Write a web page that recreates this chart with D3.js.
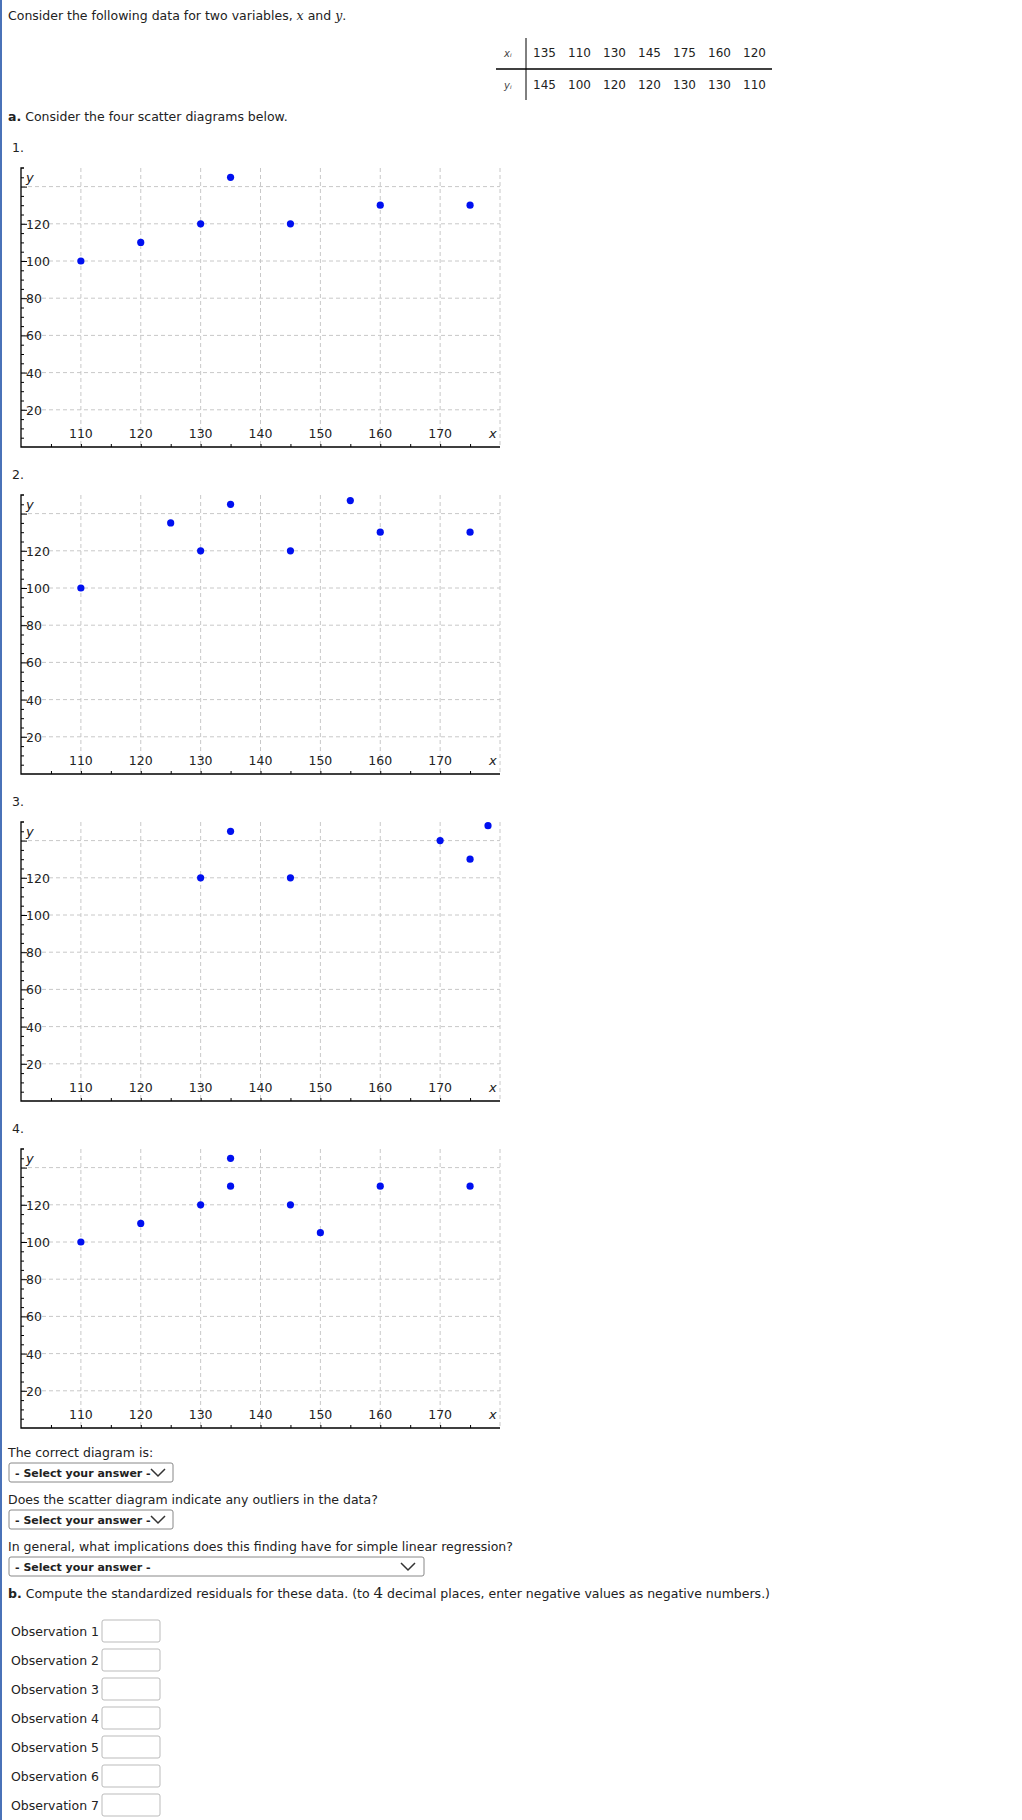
<!DOCTYPE html>
<html>
<head>
<meta charset="utf-8">
<script src="https://cdn.jsdelivr.net/npm/d3@7"></script>
<style>
body { margin: 0; background: #fff; font-family: Verdana, "DejaVu Sans", sans-serif; }
svg text { font-family: Verdana, "DejaVu Sans", sans-serif; }
</style>
</head>
<body>
<svg id="page" width="1022" height="1820"></svg>
<script>
"use strict";

// data
var xi = [135, 110, 130, 145, 175, 160, 120];
var yi = [145, 100, 120, 120, 130, 130, 110];
var plot1 = [[110, 100], [120, 110], [130, 120], [135, 145], [145, 120], [160, 130], [175, 130]];
var plot2 = [[110, 100], [125, 135], [130, 120], [135, 145], [145, 120], [155, 147], [160, 130], [175, 130]];
var plot3 = [[130, 120], [135, 145], [145, 120], [170, 140], [175, 130], [178, 148]];
var plot4 = [[110, 100], [120, 110], [130, 120], [135, 145], [135, 130], [145, 120], [150, 105], [160, 130], [175, 130]];
var plots = [plot1, plot2, plot3, plot4];
var xTicks = [110, 120, 130, 140, 150, 160, 170];
var yTicks = [20, 40, 60, 80, 100, 120];
var observations = ["Observation 1", "Observation 2", "Observation 3", "Observation 4", "Observation 5", "Observation 6", "Observation 7"];

var svg = d3.select("#page");
var ink = "#222";

//Left border line
svg.append("rect").attr("x", 0).attr("y", 0).attr("width", 2).attr("height", 1820).attr("fill", "#4a72b8");

svg.append("text").attr("x", 8).attr("y", 20).attr("font-size", 12.5).attr("fill", ink)
  .html("Consider the following data for two variables, <tspan font-style='italic' font-family='DejaVu Serif'>x</tspan> and <tspan font-style='italic' font-family='DejaVu Serif'>y</tspan>.");

//Data table
var tbl = svg.append("g");
tbl.append("line").attr("x1", 526).attr("x2", 526).attr("y1", 38).attr("y2", 100).attr("stroke", "#000");
tbl.append("line").attr("x1", 496).attr("x2", 772).attr("y1", 69).attr("y2", 69).attr("stroke", "#000").attr("stroke-width", 1.3);
tbl.append("text").attr("x", 504).attr("y", 57).attr("font-size", 10).attr("font-style", "italic").attr("font-family", "DejaVu Serif").attr("fill", "#444").text("xᵢ");
tbl.append("text").attr("x", 504).attr("y", 89).attr("font-size", 10).attr("font-style", "italic").attr("font-family", "DejaVu Serif").attr("fill", "#444").text("yᵢ");
[xi, yi].forEach(function (row, r) {
  tbl.selectAll(null).data(row).enter().append("text")
    .attr("x", function (d, i) { return 533 + i * 35; })
    .attr("y", r === 0 ? 57 : 89).attr("font-size", 12).attr("fill", ink)
    .text(function (d) { return d; });
});

svg.append("text").attr("x", 8).attr("y", 121).attr("font-size", 12.5).attr("fill", ink)
  .html("<tspan font-weight='bold'>a.</tspan> Consider the four scatter diagrams below.");

//Scatter diagrams
var x = d3.scaleLinear().domain([100, 180]).range([21, 500]);
var y = d3.scaleLinear().domain([0, 150]).range([279, 0]);

plots.forEach(function (pts, k) {
  var top = 168 + k * 327;
  svg.append("text").attr("x", 12).attr("y", top - 16).attr("font-size", 12.5).attr("fill", ink).text((k + 1) + ".");
  var g = svg.append("g").attr("transform", "translate(0," + top + ")");
  //grid
  g.selectAll(null).data(d3.range(110, 181, 10)).enter().append("line")
    .attr("x1", x).attr("x2", x).attr("y1", 0).attr("y2", 279)
    .attr("stroke", "#c8c8c8").attr("stroke-dasharray", "4,3");
  g.selectAll(null).data(d3.range(20, 141, 20)).enter().append("line")
    .attr("x1", 21).attr("x2", 500).attr("y1", y).attr("y2", y)
    .attr("stroke", "#c8c8c8").attr("stroke-dasharray", "4,3");
  //axes
  var xAxis = d3.axisBottom(x).tickValues(d3.range(105, 180, 5)).tickSize(-3).tickFormat("");
  var ax = g.append("g").attr("transform", "translate(0,279)").call(xAxis);
  ax.select(".domain").remove();
  var yAxis = d3.axisLeft(y).tickValues(d3.range(5, 150, 5)).tickSize(-3).tickFormat("");
  var ay = g.append("g").attr("transform", "translate(21,0)").call(yAxis);
  ay.select(".domain").remove();
  ay.selectAll(".tick").filter(function (d) { return d % 20 === 0; }).select("line").attr("x2", 6);
  g.append("path").attr("d", "M24,0H21V279H500").attr("fill", "none").attr("stroke", "#000").attr("stroke-width", 1.3);
  g.selectAll(null).data(xTicks).enter().append("text")
    .attr("x", x).attr("y", 270).attr("text-anchor", "middle").attr("font-size", 12.5).attr("fill", ink)
    .text(function (d) { return d; });
  g.selectAll(null).data(yTicks).enter().append("text")
    .attr("x", 26).attr("y", function (d) { return y(d) + 5; }).attr("font-size", 12.5).attr("fill", ink)
    .text(function (d) { return d; });
  g.append("text").attr("x", 26).attr("y", 14).attr("font-size", 13).attr("font-style", "italic").attr("fill", ink).text("y");
  g.append("text").attr("x", 489).attr("y", 270).attr("font-size", 13).attr("font-style", "italic").attr("fill", ink).text("x");
  g.selectAll(null).data(pts).enter().append("circle")
    .attr("cx", function (d) { return x(d[0]); }).attr("cy", function (d) { return y(d[1]); })
    .attr("r", 3.6).attr("fill", "#0010f0");
});

//Questions
function selectBox(yTop, w, arrowX) {
  var g = svg.append("g");
  g.append("rect").attr("x", 9).attr("y", yTop).attr("width", w).attr("height", 19).attr("rx", 2)
    .attr("fill", "#fff").attr("stroke", "#888");
  g.append("text").attr("x", 15).attr("y", yTop + 14).attr("font-size", 11).attr("font-weight", "bold").attr("fill", ink).text("- Select your answer -");
  g.append("path").attr("d", "M" + arrowX + "," + (yTop + 6) + "l7,7l7,-7").attr("fill", "none").attr("stroke", "#333").attr("stroke-width", 1.5);
}
var q = [["The correct diagram is:", 1457, 164, 151], ["Does the scatter diagram indicate any outliers in the data?", 1504, 164, 151], ["In general, what implications does this finding have for simple linear regression?", 1551, 415, 401]];
q.forEach(function (d) {
  svg.append("text").attr("x", 8).attr("y", d[1]).attr("font-size", 12.5).attr("fill", ink).text(d[0]);
  selectBox(d[1] + 6, d[2], d[3]);
});
svg.append("text").attr("x", 8).attr("y", 1598).attr("font-size", 12.5).attr("fill", ink)
  .html("<tspan font-weight='bold'>b.</tspan> Compute the standardized residuals for these data. (to <tspan font-family='DejaVu Serif' font-size='15'>4</tspan> decimal places, enter negative values as negative numbers.)");

svg.selectAll(null).data(observations).enter().append("text")
  .attr("x", 11).attr("y", function (d, i) { return 1636 + i * 29; }).attr("font-size", 12.5).attr("fill", ink)
  .text(function (d) { return d; });
svg.selectAll(null).data(observations).enter().append("rect")
  .attr("x", 102).attr("y", function (d, i) { return 1620 + i * 29; }).attr("width", 58).attr("height", 22).attr("rx", 2)
  .attr("fill", "#fff").attr("stroke", "#bbb");
</script>
</body>
</html>
